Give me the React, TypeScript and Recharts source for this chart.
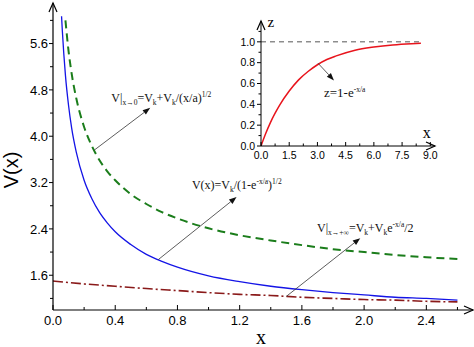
import React from "react";
import {
  LineChart,
  Line,
  XAxis,
  YAxis,
  ReferenceLine,
  ReferenceDot,
} from "recharts";

/* main plot series */
const blueX = [0.055, 0.06, 0.08, 0.1, 0.12, 0.15, 0.2, 0.25, 0.3, 0.35, 0.4, 0.5, 0.6, 0.7, 0.8, 1.0, 1.2, 1.4, 1.6, 1.8, 2.0, 2.2, 2.4, 2.6];
const blueV = [6.07, 5.82, 5.05, 4.53, 4.14, 3.72, 3.24, 2.92, 2.68, 2.5, 2.35, 2.13, 1.96, 1.84, 1.74, 1.59, 1.49, 1.41, 1.35, 1.3, 1.26, 1.22, 1.2, 1.17];

const greenX = [0.08, 0.1, 0.12, 0.15, 0.2, 0.25, 0.3, 0.35, 0.4, 0.5, 0.6, 0.7, 0.8, 1.0, 1.2, 1.4, 1.6, 1.8, 2.0, 2.2, 2.4, 2.6];
const greenV = [6.0, 5.47, 5.08, 4.65, 4.16, 3.83, 3.58, 3.39, 3.24, 3.0, 2.83, 2.69, 2.58, 2.41, 2.29, 2.2, 2.12, 2.05, 2.0, 1.95, 1.91, 1.88];

const redX = [0, 0.2, 0.4, 0.6, 0.8, 1.0, 1.2, 1.4, 1.6, 1.8, 2.0, 2.2, 2.4, 2.6];
const redV = [1.5, 1.45, 1.41, 1.37, 1.335, 1.3, 1.27, 1.25, 1.22, 1.2, 1.18, 1.17, 1.15, 1.14];

const xTicks = [0, 0.2, 0.4, 0.6, 0.8, 1.0, 1.2, 1.4, 1.6, 1.8, 2.0, 2.2, 2.4, 2.6];
const xLabels = [0, 0.4, 0.8, 1.2, 1.6, 2.0, 2.4];
const yTicks = [1.2, 1.6, 2.0, 2.4, 2.8, 3.2, 3.6, 4.0, 4.4, 4.8, 5.2, 5.6, 6.0];
const yLabels = [1.6, 2.4, 3.2, 4.0, 4.8, 5.6];

/* inset */
const zX = [0, 0.25, 0.5, 0.75, 1, 1.5, 2, 2.5, 3, 3.5, 4, 5, 6, 7, 8, 8.5];
const zV = [0, 0.12, 0.225, 0.315, 0.395, 0.528, 0.635, 0.715, 0.78, 0.83, 0.865, 0.92, 0.95, 0.97, 0.982, 0.986];
const zXTicks = [0, 0.75, 1.5, 2.25, 3.0, 3.75, 4.5, 5.25, 6.0, 6.75, 7.5, 8.25, 9.0];
const zXLabels = [0, 1.5, 3.0, 4.5, 6.0, 7.5, 9.0];
const zYTicks = [0, 0.1, 0.2, 0.3, 0.4, 0.5, 0.6, 0.7, 0.8, 0.9, 1.0, 1.1];
const zYLabels = [0, 0.2, 0.4, 0.6, 0.8, 1.0];

const blueData = blueX.map((x, i) => ({ x, v: blueV[i] }));
const greenData = greenX.map((x, i) => ({ x, v: greenV[i] }));
const redData = redX.map((x, i) => ({ x, v: redV[i] }));
const zData = zX.map((x, i) => ({ x, v: zV[i] }));

const SANS = "Liberation Sans, Arial, sans-serif";
const SERIF = "Liberation Serif, Times New Roman, serif";

const has = (arr: number[], v: number) => arr.some((a) => Math.abs(a - v) < 1e-6);

// x ticks point up into the plot, y ticks point out
const makeXTick = (labels: number[], size: number, big: number, small: number, gap: number) =>
  (p: any) => {
    const major = has(labels, p.payload.value);
    return (
      <g>
        <line x1={p.x} y1={p.y} x2={p.x} y2={p.y - (major ? big : small)} stroke="#000" strokeWidth={1} />
        {major && (
          <text x={p.x} y={p.y + gap} textAnchor="middle" fontFamily={SANS} fontSize={size} fill="#000">
            {p.payload.value.toFixed(1)}
          </text>
        )}
      </g>
    );
  };

const makeYTick = (labels: number[], size: number, big: number, small: number, gap: number) =>
  (p: any) => {
    const major = has(labels, p.payload.value);
    return (
      <g>
        <line x1={p.x} y1={p.y} x2={p.x - (major ? big : small)} y2={p.y} stroke="#000" strokeWidth={1} />
        {major && (
          <text x={p.x - gap} y={p.y + size * 0.36} textAnchor="end" fontFamily={SANS} fontSize={size} fill="#000">
            {p.payload.value.toFixed(1)}
          </text>
        )}
      </g>
    );
  };

function arrowShape(p: any) {
  const { x1, y1, x2, y2 } = p;
  const a = Math.atan2(y2 - y1, x2 - x1);
  const L = 7.5;
  const W = 2.8;
  const bx = x2 - L * Math.cos(a);
  const by = y2 - L * Math.sin(a);
  const pts = `${x2},${y2} ${bx + W * Math.sin(a)},${by - W * Math.cos(a)} ${bx - W * Math.sin(a)},${by + W * Math.cos(a)}`;
  return (
    <g>
      <line x1={x1} y1={y1} x2={bx} y2={by} stroke="#333" strokeWidth={0.8} />
      <polygon points={pts} fill="#111" />
    </g>
  );
}

const upChevron = (p: any) => (
  <path d={`M${p.cx - 4},${p.cy + 9} L${p.cx},${p.cy} L${p.cx + 4},${p.cy + 9}`} fill="none" stroke="#000" strokeWidth={1.2} />
);
const rightChevron = (p: any) => (
  <path d={`M${p.cx - 9},${p.cy - 4} L${p.cx},${p.cy} L${p.cx - 9},${p.cy + 4}`} fill="none" stroke="#000" strokeWidth={1.2} />
);

const SUB = 7.5;

const formula1 = (p: any) => (
  <text x={p.cx} y={p.cy} fontFamily={SERIF} fontSize={12} fill="#111">
    V|
    <tspan fontSize={SUB} dy={3}>x→0</tspan>
    <tspan dy={-3}>=V</tspan>
    <tspan fontSize={SUB} dy={3}>k</tspan>
    <tspan dy={-3}>+V</tspan>
    <tspan fontSize={SUB} dy={3}>k</tspan>
    <tspan dy={-3}>/(x/a)</tspan>
    <tspan fontSize={SUB} dy={-5}>1/2</tspan>
  </text>
);

const formula2 = (p: any) => (
  <text x={p.cx} y={p.cy} fontFamily={SERIF} fontSize={12} fill="#111">
    V(x)=V
    <tspan fontSize={SUB} dy={3}>k</tspan>
    <tspan dy={-3}>/(1-e</tspan>
    <tspan fontSize={SUB} dy={-5}>-x/a</tspan>
    <tspan dy={5}>)</tspan>
    <tspan fontSize={SUB} dy={-5}>1/2</tspan>
  </text>
);

const formula3 = (p: any) => (
  <text x={p.cx} y={p.cy} fontFamily={SERIF} fontSize={12} fill="#111">
    V|
    <tspan fontSize={SUB} dy={3}>x→+∞</tspan>
    <tspan dy={-3}>=V</tspan>
    <tspan fontSize={SUB} dy={3}>k</tspan>
    <tspan dy={-3}>+V</tspan>
    <tspan fontSize={SUB} dy={3}>k</tspan>
    <tspan dy={-3}>e</tspan>
    <tspan fontSize={SUB} dy={-5}>-x/a</tspan>
    <tspan dy={5}>/2</tspan>
  </text>
);

const formulaZ = (p: any) => (
  <text x={p.cx} y={p.cy} fontFamily={SERIF} fontSize={13} fill="#111">
    z=1-e
    <tspan fontSize={SUB} dy={-5}>-x/a</tspan>
  </text>
);

function MainChart() {
  return (
    <LineChart width={474} height={347} margin={{ top: 3, right: 1, left: 0, bottom: 0 }}>
      <XAxis
        dataKey="x"
        type="number"
        domain={[0, 2.7]}
        allowDataOverflow
        ticks={xTicks}
        interval={0}
        height={37}
        tickSize={0}
        tickMargin={0}
        tickLine={false}
        tick={makeXTick(xLabels, 13, 5, 3, 15)}
        axisLine={{ stroke: "#000", strokeWidth: 1.2 }}
        label={{
          content: (p: any) => (
            <text x={p.viewBox.x + p.viewBox.width / 2 - 2} y={344} textAnchor="middle" fontFamily={SERIF} fontSize={20} fill="#000">
              x
            </text>
          ),
        }}
      />
      <YAxis
        type="number"
        domain={[1, 6.3]}
        allowDataOverflow
        ticks={yTicks}
        interval={0}
        width={53}
        tickSize={0}
        tickMargin={0}
        tickLine={false}
        tick={makeYTick(yLabels, 13, 4, 3, 5)}
        axisLine={{ stroke: "#000", strokeWidth: 1.2 }}
        label={{
          content: () => (
            <text x={18} y={170} transform="rotate(-90, 18, 170)" textAnchor="middle" fontFamily={SANS} fontSize={20} fill="#000">
              V(x)
            </text>
          ),
        }}
      />
      <Line data={greenData} dataKey="v" type="monotone" stroke="#1b7d1b" strokeWidth={2} strokeDasharray="8 5" dot={false} isAnimationActive={false} />
      <Line data={blueData} dataKey="v" type="monotone" stroke="#1414e6" strokeWidth={1.3} dot={false} isAnimationActive={false} />
      <Line data={redData} dataKey="v" type="monotone" stroke="#8a1a1a" strokeWidth={1.6} strokeDasharray="10 3 2 3" dot={false} isAnimationActive={false} />

      <ReferenceLine segment={[{ x: 0.265, y: 3.76 }, { x: 0.625, y: 4.49 }]} ifOverflow="visible" shape={arrowShape} />
      <ReferenceLine segment={[{ x: 0.677, y: 1.87 }, { x: 1.18, y: 2.95 }]} ifOverflow="visible" shape={arrowShape} />
      <ReferenceLine segment={[{ x: 1.5, y: 1.235 }, { x: 1.975, y: 2.24 }]} ifOverflow="visible" shape={arrowShape} />

      <ReferenceDot x={0.375} y={4.59} r={0} ifOverflow="visible" shape={formula1} />
      <ReferenceDot x={0.893} y={3.09} r={0} ifOverflow="visible" shape={formula2} />
      <ReferenceDot x={1.697} y={2.35} r={0} ifOverflow="visible" shape={formula3} />

      <ReferenceDot x={0} y={6.3} r={0} ifOverflow="visible" shape={upChevron} />
      <ReferenceDot x={2.7} y={1} r={0} ifOverflow="visible" shape={rightChevron} />
    </LineChart>
  );
}

function InsetChart() {
  return (
    <LineChart width={240} height={165} margin={{ top: 21, right: 5, left: 0, bottom: 0 }}>
      <XAxis
        dataKey="x"
        type="number"
        domain={[0, 9.25]}
        allowDataOverflow
        ticks={zXTicks}
        interval={0}
        height={19}
        tickSize={0}
        tickMargin={0}
        tickLine={false}
        tick={makeXTick(zXLabels, 10.5, 4, 2.5, 13)}
        axisLine={{ stroke: "#000", strokeWidth: 1 }}
      />
      <YAxis
        type="number"
        domain={[0, 1.2]}
        allowDataOverflow
        ticks={zYTicks}
        interval={0}
        width={61}
        tickSize={0}
        tickMargin={0}
        tickLine={false}
        tick={makeYTick(zYLabels, 10.5, 4, 2.5, 6)}
        axisLine={{ stroke: "#000", strokeWidth: 1 }}
      />
      <ReferenceLine segment={[{ x: 0, y: 1 }, { x: 8.5, y: 1 }]} stroke="#555" strokeWidth={1} strokeDasharray="5 4" ifOverflow="visible" />
      <Line data={zData} dataKey="v" type="monotone" stroke="#e8141c" strokeWidth={1.5} dot={false} isAnimationActive={false} />
      <ReferenceLine segment={[{ x: 3.03, y: 0.795 }, { x: 3.88, y: 0.63 }]} ifOverflow="visible" shape={arrowShape} />
      <ReferenceDot x={3.35} y={0.47} r={0} ifOverflow="visible" shape={formulaZ} />
      <ReferenceDot x={0} y={1.2} r={0} ifOverflow="visible" shape={upChevron} />
      <ReferenceDot x={9.25} y={0} r={0} ifOverflow="visible" shape={rightChevron} />
      <ReferenceDot
        x={0.35}
        y={1.14}
        r={0}
        ifOverflow="visible"
        shape={(p: any) => (
          <text x={p.cx} y={p.cy} fontFamily={SERIF} fontSize={15} fill="#000">z</text>
        )}
      />
      <ReferenceDot
        x={8.6}
        y={0.08}
        r={0}
        ifOverflow="visible"
        shape={(p: any) => (
          <text x={p.cx} y={p.cy} fontFamily={SERIF} fontSize={16} fill="#000">x</text>
        )}
      />
    </LineChart>
  );
}

export default function App() {
  return (
    <div style={{ position: "absolute", left: 0, top: 0, width: 474, height: 347, background: "#fff" }}>
      <MainChart />
      <div style={{ position: "absolute", left: 200, top: 0 }}>
        <InsetChart />
      </div>
    </div>
  );
}
